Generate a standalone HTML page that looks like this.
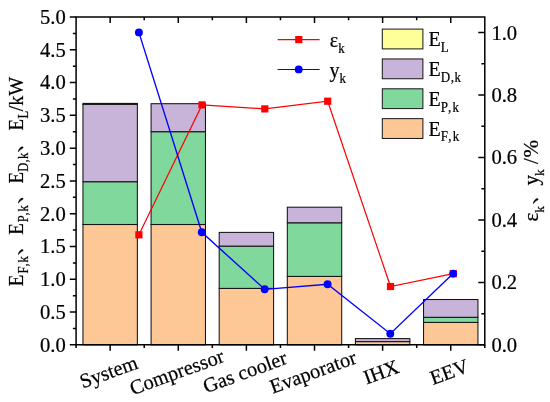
<!DOCTYPE html>
<html><head><meta charset="utf-8"><title>chart</title>
<style>html,body{margin:0;padding:0;background:#fff;width:550px;height:402px;overflow:hidden}</style></head>
<body>
<svg width="550" height="402" viewBox="0 0 550 402" style="position:absolute;left:0;top:0">
<rect width="550" height="402" fill="#fff"/>
<rect x="82.96" y="224.50" width="54.40" height="120.35" fill="#FDC796" stroke="#141414" stroke-width="1.05"/>
<rect x="82.96" y="181.70" width="54.40" height="42.80" fill="#80D89C" stroke="#141414" stroke-width="1.05"/>
<rect x="82.96" y="104.40" width="54.40" height="77.30" fill="#C8B3D9" stroke="#141414" stroke-width="1.05"/>
<rect x="82.96" y="103.40" width="54.40" height="1.00" fill="#FFFF99" stroke="#141414" stroke-width="1.05"/>
<rect x="151.08" y="224.50" width="54.40" height="120.35" fill="#FDC796" stroke="#141414" stroke-width="1.05"/>
<rect x="151.08" y="131.70" width="54.40" height="92.80" fill="#80D89C" stroke="#141414" stroke-width="1.05"/>
<rect x="151.08" y="103.70" width="54.40" height="28.00" fill="#C8B3D9" stroke="#141414" stroke-width="1.05"/>
<rect x="219.19" y="288.40" width="54.40" height="56.45" fill="#FDC796" stroke="#141414" stroke-width="1.05"/>
<rect x="219.19" y="246.10" width="54.40" height="42.30" fill="#80D89C" stroke="#141414" stroke-width="1.05"/>
<rect x="219.19" y="232.40" width="54.40" height="13.70" fill="#C8B3D9" stroke="#141414" stroke-width="1.05"/>
<rect x="287.31" y="276.40" width="54.40" height="68.45" fill="#FDC796" stroke="#141414" stroke-width="1.05"/>
<rect x="287.31" y="222.80" width="54.40" height="53.60" fill="#80D89C" stroke="#141414" stroke-width="1.05"/>
<rect x="287.31" y="207.20" width="54.40" height="15.60" fill="#C8B3D9" stroke="#141414" stroke-width="1.05"/>
<rect x="355.43" y="341.60" width="54.40" height="3.25" fill="#FDC796" stroke="#141414" stroke-width="1.05"/>
<rect x="355.43" y="338.60" width="54.40" height="3.00" fill="#C8B3D9" stroke="#141414" stroke-width="1.05"/>
<rect x="423.54" y="322.40" width="54.40" height="22.45" fill="#FDC796" stroke="#141414" stroke-width="1.05"/>
<rect x="423.54" y="317.30" width="54.40" height="5.10" fill="#80D89C" stroke="#141414" stroke-width="1.05"/>
<rect x="423.54" y="299.50" width="54.40" height="17.80" fill="#C8B3D9" stroke="#141414" stroke-width="1.05"/>
<g stroke="#000" stroke-width="1.5" fill="none" stroke-linecap="butt">
<path d="M75.35 17.00H485.55M75.35 344.85H485.55M76.10 17.00V344.85M484.80 17.00V344.85"/>
<path d="M76.10 344.85h-6.3M76.10 328.46h-3.2M76.10 312.06h-6.3M76.10 295.67h-3.2M76.10 279.28h-6.3M76.10 262.89h-3.2M76.10 246.50h-6.3M76.10 230.10h-3.2M76.10 213.71h-6.3M76.10 197.32h-3.2M76.10 180.93h-6.3M76.10 164.53h-3.2M76.10 148.14h-6.3M76.10 131.75h-3.2M76.10 115.35h-6.3M76.10 98.96h-3.2M76.10 82.57h-6.3M76.10 66.18h-3.2M76.10 49.78h-6.3M76.10 33.39h-3.2M76.10 17.00h-6.3M484.80 344.85h-6.5M484.80 313.63h-3.4M484.80 282.40h-6.5M484.80 251.18h-3.4M484.80 219.95h-6.5M484.80 188.73h-3.4M484.80 157.51h-6.5M484.80 126.28h-3.4M484.80 95.06h-6.5M484.80 63.84h-3.4M484.80 32.61h-6.5M110.16 344.85v6M110.16 17.00v6M178.28 344.85v6M178.28 17.00v6M246.39 344.85v6M246.39 17.00v6M314.51 344.85v6M314.51 17.00v6M382.62 344.85v6M382.62 17.00v6M450.74 344.85v6M450.74 17.00v6M76.10 344.85v3.2M144.22 344.85v3.2M144.22 17.00v3.2M212.33 344.85v3.2M212.33 17.00v3.2M280.45 344.85v3.2M280.45 17.00v3.2M348.57 344.85v3.2M348.57 17.00v3.2M416.68 344.85v3.2M416.68 17.00v3.2M484.80 344.85v3.2"/>
</g>
<polyline fill="none" stroke="#ff0000" stroke-width="1.2" points="138.9,234.8 202.0,104.9 264.8,108.9 327.7,101.2 390.5,286.5 453.3,273.7"/>
<rect x="135.30" y="231.20" width="7.2" height="7.2" fill="#ff0000"/>
<rect x="198.40" y="101.30" width="7.2" height="7.2" fill="#ff0000"/>
<rect x="261.20" y="105.30" width="7.2" height="7.2" fill="#ff0000"/>
<rect x="324.10" y="97.60" width="7.2" height="7.2" fill="#ff0000"/>
<rect x="386.90" y="282.90" width="7.2" height="7.2" fill="#ff0000"/>
<rect x="449.70" y="270.10" width="7.2" height="7.2" fill="#ff0000"/>
<polyline fill="none" stroke="#0000ff" stroke-width="1.35" points="138.9,32.4 201.8,232.3 264.7,289.3 327.6,284.3 390.3,333.7 453.2,273.6"/>
<circle cx="138.9" cy="32.4" r="3.95" fill="#0000ff"/>
<circle cx="201.8" cy="232.3" r="3.95" fill="#0000ff"/>
<circle cx="264.7" cy="289.3" r="3.95" fill="#0000ff"/>
<circle cx="327.6" cy="284.3" r="3.95" fill="#0000ff"/>
<circle cx="390.3" cy="333.7" r="3.95" fill="#0000ff"/>
<circle cx="453.2" cy="273.6" r="3.95" fill="#0000ff"/>
<line x1="277.6" y1="39.6" x2="319.6" y2="39.6" stroke="#ff0000" stroke-width="1.05"/>
<rect x="295.2" y="36" width="7.2" height="7.2" fill="#ff0000"/>
<line x1="277.6" y1="69.5" x2="319.6" y2="69.5" stroke="#0000ff" stroke-width="1.15"/>
<circle cx="298.7" cy="69.4" r="3.95" fill="#0000ff"/>
<rect x="382.3" y="29.10" width="40.6" height="19.8" fill="#FFFF99" stroke="#141414" stroke-width="1"/>
<rect x="382.3" y="58.95" width="40.6" height="19.8" fill="#C8B3D9" stroke="#141414" stroke-width="1"/>
<rect x="382.3" y="88.80" width="40.6" height="19.8" fill="#80D89C" stroke="#141414" stroke-width="1"/>
<rect x="382.3" y="118.65" width="40.6" height="19.8" fill="#FDC796" stroke="#141414" stroke-width="1"/>
<g font-family="Liberation Serif, Noto Serif CJK SC, serif" font-size="20" fill="#000" stroke="#000" stroke-width="0.22">
<text x="65.7" y="351.75" font-size="20.6" text-anchor="end">0.0</text>
<text x="65.7" y="318.96" font-size="20.6" text-anchor="end">0.5</text>
<text x="65.7" y="286.18" font-size="20.6" text-anchor="end">1.0</text>
<text x="65.7" y="253.40" font-size="20.6" text-anchor="end">1.5</text>
<text x="65.7" y="220.61" font-size="20.6" text-anchor="end">2.0</text>
<text x="65.7" y="187.83" font-size="20.6" text-anchor="end">2.5</text>
<text x="65.7" y="155.04" font-size="20.6" text-anchor="end">3.0</text>
<text x="65.7" y="122.25" font-size="20.6" text-anchor="end">3.5</text>
<text x="65.7" y="89.47" font-size="20.6" text-anchor="end">4.0</text>
<text x="65.7" y="56.68" font-size="20.6" text-anchor="end">4.5</text>
<text x="65.7" y="23.90" font-size="20.6" text-anchor="end">5.0</text>
<text x="491.4" y="351.75" font-size="20.6">0.0</text>
<text x="491.4" y="289.30" font-size="20.6">0.2</text>
<text x="491.4" y="226.85" font-size="20.6">0.4</text>
<text x="491.4" y="164.41" font-size="20.6">0.6</text>
<text x="491.4" y="101.96" font-size="20.6">0.8</text>
<text x="491.4" y="39.51" font-size="20.6">1.0</text>
<text transform="translate(108.66,372.00) rotate(-20)" text-anchor="middle" y="6.7" font-size="20.4">System</text>
<text transform="translate(176.78,372.00) rotate(-20)" text-anchor="middle" y="6.7" font-size="20.4">Compressor</text>
<text transform="translate(244.89,372.00) rotate(-20)" text-anchor="middle" y="6.7" font-size="20.4">Gas cooler</text>
<text transform="translate(313.01,372.00) rotate(-20)" text-anchor="middle" y="6.7" font-size="20.4">Evaporator</text>
<text transform="translate(381.12,372.00) rotate(-20)" text-anchor="middle" y="6.7" font-size="20.4">IHX</text>
<text transform="translate(449.24,372.00) rotate(-20)" text-anchor="middle" y="6.7" font-size="20.4">EEV</text>
<text transform="translate(329.8,47.1) scale(0.93,1)" font-size="21.5">ε<tspan font-size="14" dy="6.0" letter-spacing="0">k</tspan></text>
<text transform="translate(329.6,76.6) scale(0.93,1)" font-size="21.5">y<tspan font-size="14" dy="6.0" letter-spacing="0">k</tspan></text>
<text transform="translate(428.6,46.3) scale(0.93,1)" font-size="21.5">E<tspan font-size="14" dy="5.5" letter-spacing="0">L</tspan></text>
<text transform="translate(428.6,76.2) scale(0.93,1)" font-size="21.5">E<tspan font-size="14" dy="5.5" letter-spacing="0.6">D,k</tspan></text>
<text transform="translate(428.6,106.0) scale(0.93,1)" font-size="21.5">E<tspan font-size="14" dy="5.5" letter-spacing="1.4">P,k</tspan></text>
<text transform="translate(428.6,135.8) scale(0.93,1)" font-size="21.5">E<tspan font-size="14" dy="5.5" letter-spacing="1.4">F,k</tspan></text>
<text class="lt0a" font-size="21" transform="translate(23.4,286.2) rotate(-90) scale(0.9,1)">E</text>
<text class="lt0b" font-size="14" letter-spacing="1.1" transform="translate(28.0,273.59999999999997) rotate(-90) scale(0.9,1)">F,k</text>
<text class="lt0c" font-size="21" transform="translate(21.4,255.39999999999998) rotate(-90)">、</text>
<text class="lt1a" font-size="21" transform="translate(23.4,234.8) rotate(-90) scale(0.9,1)">E</text>
<text class="lt1b" font-size="14" letter-spacing="1.1" transform="translate(28.0,222.2) rotate(-90) scale(0.9,1)">P,k</text>
<text class="lt1c" font-size="21" transform="translate(21.4,204.0) rotate(-90)">、</text>
<text class="lt2a" font-size="21" transform="translate(23.4,183.60000000000002) rotate(-90) scale(0.9,1)">E</text>
<text class="lt2b" font-size="14" letter-spacing="0.3" transform="translate(28.0,171.8) rotate(-90) scale(0.9,1)">D,k</text>
<text class="lt2c" font-size="21" transform="translate(21.4,152.8) rotate(-90)">、</text>
<text class="lt3a" font-size="21" transform="translate(23.4,130.6) rotate(-90) scale(0.9,1)">E</text>
<text class="lt3b" font-size="14" transform="translate(28.0,118.6) rotate(-90) scale(0.9,1)">L</text>
<text class="lt3c" font-size="21" transform="translate(23.4,111.2) rotate(-90) scale(0.95,1)">/kW</text>
<text class="rt0" font-size="21" transform="translate(537.5,221.6) rotate(-90)">ε<tspan font-size="13.5" dy="6">k</tspan></text>
<text class="rt1" font-size="21" transform="translate(537.5,204.6) rotate(-90)"><tspan dy="-1.2">、</tspan></text>
<text class="rt2" font-size="21" transform="translate(537.5,185.5) rotate(-90)">y<tspan font-size="13.5" dy="6" dx="-1">k</tspan></text>
<text class="rt3" font-size="21" transform="translate(537.5,163.9) rotate(-90)">/</text>
<text class="rt4" font-size="21" transform="translate(537.5,157.4) rotate(-90)">%</text>
</g>
</svg>
</body></html>
